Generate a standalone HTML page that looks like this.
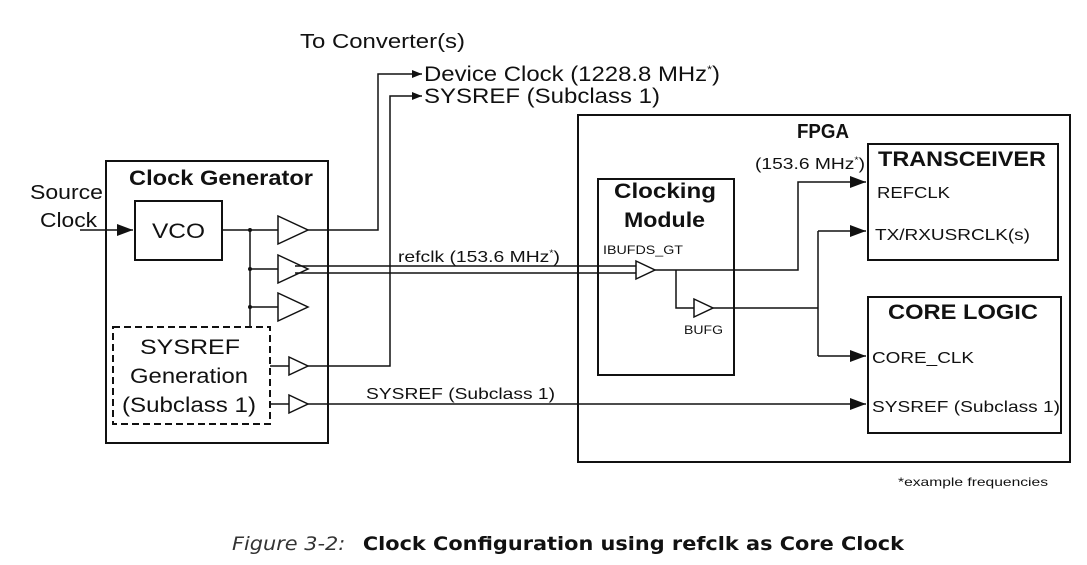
<!DOCTYPE html>
<html><head><style>
body{margin:0;background:#fff;}
svg text{font-family:"Liberation Sans",Arial,sans-serif;fill:#111;}
</style></head><body>
<svg width="1087" height="560" viewBox="0 0 1087 560" xmlns="http://www.w3.org/2000/svg">
<defs><marker id="a" markerWidth="10" markerHeight="8" refX="10" refY="4" orient="auto" markerUnits="userSpaceOnUse"><path d="M0,0L10,4L0,8z" fill="#111"/></marker>
<marker id="b" markerWidth="16" markerHeight="12" refX="16" refY="6" orient="auto" markerUnits="userSpaceOnUse"><path d="M0,0L16,6L0,12z" fill="#111"/></marker></defs>
<g stroke="#111" fill="none" stroke-width="1.5">
<rect x="106" y="161" width="222" height="282" stroke-width="2"/>
<rect x="135" y="201" width="87" height="59" stroke-width="2"/>
<rect x="113" y="327" width="157" height="97" stroke-width="2" stroke-dasharray="7,4"/>
<rect x="578" y="115" width="492" height="347" stroke-width="2"/>
<rect x="598" y="179" width="136" height="196" stroke-width="2"/>
<rect x="868" y="144" width="190" height="116" stroke-width="2"/>
<rect x="868" y="297" width="193" height="136" stroke-width="2"/>
<path d="M278,216L308,230L278,244z"/>
<path d="M278,255L308,269L278,283z"/>
<path d="M278,293L308,307L278,321z"/>
<path d="M289,357L308,366L289,375z"/>
<path d="M289,395L308,404L289,413z"/>
<path d="M636,261L655,270L636,279z"/>
<path d="M694,299L713,308L694,317z"/>
<path d="M80,230H133" marker-end="url(#b)"/>
<path d="M222,230H278M250,230V327M250,269H278M250,307H278"/>
<path d="M270,366H289M270,404H289"/>
<path d="M308,230H378V74H422" marker-end="url(#a)"/>
<path d="M308,366H390V96H422" marker-end="url(#a)"/>
<path d="M295,266H636M295,273H636"/>
<path d="M655,270H798V182H866" marker-end="url(#b)"/>
<path d="M676,270V308H694"/>
<path d="M713,308H818M818,231V356M818,231H866" marker-end="url(#b)"/>
<path d="M818,356H866" marker-end="url(#b)"/>
<path d="M308,404H866" marker-end="url(#b)"/>
</g>
<g fill="#111"><circle cx="250" cy="230" r="2"/><circle cx="250" cy="269" r="2"/><circle cx="250" cy="307" r="2"/></g>
<g lengthAdjust="spacingAndGlyphs">
<text x="300" y="48" font-size="20" textLength="165" lengthAdjust="spacingAndGlyphs">To Converter(s)</text>
<text x="424" y="81" font-size="21" textLength="296" lengthAdjust="spacingAndGlyphs">Device Clock (1228.8 MHz<tspan font-size="11" dy="-8">*</tspan><tspan dy="8">)</tspan></text>
<text x="424" y="103" font-size="21" textLength="236" lengthAdjust="spacingAndGlyphs">SYSREF (Subclass 1)</text>
<text x="30" y="199" font-size="20" textLength="73" lengthAdjust="spacingAndGlyphs">Source</text>
<text x="40" y="227" font-size="20" textLength="57" lengthAdjust="spacingAndGlyphs">Clock</text>
<text x="129" y="185" font-size="21" font-weight="bold" textLength="184" lengthAdjust="spacingAndGlyphs">Clock Generator</text>
<text x="152" y="238" font-size="21" textLength="53" lengthAdjust="spacingAndGlyphs">VCO</text>
<text x="140" y="354" font-size="21" textLength="100" lengthAdjust="spacingAndGlyphs">SYSREF</text>
<text x="130" y="383" font-size="21" textLength="118" lengthAdjust="spacingAndGlyphs">Generation</text>
<text x="122" y="412" font-size="21" textLength="134" lengthAdjust="spacingAndGlyphs">(Subclass 1)</text>
<text x="398" y="262" font-size="16" textLength="162" lengthAdjust="spacingAndGlyphs">refclk (153.6 MHz<tspan font-size="9" dy="-6">*</tspan><tspan dy="6">)</tspan></text>
<text x="366" y="399" font-size="16" textLength="189" lengthAdjust="spacingAndGlyphs">SYSREF (Subclass 1)</text>
<text x="797" y="138" font-size="20" font-weight="bold" textLength="52" lengthAdjust="spacingAndGlyphs">FPGA</text>
<text x="755" y="169" font-size="16" textLength="110" lengthAdjust="spacingAndGlyphs">(153.6 MHz<tspan font-size="9" dy="-6">*</tspan><tspan dy="6">)</tspan></text>
<text x="614" y="198" font-size="21" font-weight="bold" textLength="102" lengthAdjust="spacingAndGlyphs">Clocking</text>
<text x="624" y="227" font-size="21" font-weight="bold" textLength="81" lengthAdjust="spacingAndGlyphs">Module</text>
<text x="603" y="254" font-size="12" textLength="80" lengthAdjust="spacingAndGlyphs">IBUFDS_GT</text>
<text x="684" y="334" font-size="12" textLength="39" lengthAdjust="spacingAndGlyphs">BUFG</text>
<text x="878" y="166" font-size="21" font-weight="bold" textLength="168" lengthAdjust="spacingAndGlyphs">TRANSCEIVER</text>
<text x="877" y="198" font-size="16" textLength="73" lengthAdjust="spacingAndGlyphs">REFCLK</text>
<text x="875" y="240" font-size="16" textLength="155" lengthAdjust="spacingAndGlyphs">TX/RXUSRCLK(s)</text>
<text x="888" y="319" font-size="21" font-weight="bold" textLength="150" lengthAdjust="spacingAndGlyphs">CORE LOGIC</text>
<text x="872" y="363" font-size="16" textLength="102" lengthAdjust="spacingAndGlyphs">CORE_CLK</text>
<text x="872" y="412" font-size="16" textLength="188" lengthAdjust="spacingAndGlyphs">SYSREF (Subclass 1)</text>
<text x="898" y="486" font-size="12" textLength="150" lengthAdjust="spacingAndGlyphs">*example frequencies</text>
<text x="232" y="550" font-size="19" textLength="672" lengthAdjust="spacingAndGlyphs" style="font-family:'DejaVu Sans',sans-serif"><tspan font-style="italic" fill="#333">Figure 3-2:</tspan><tspan dx="16" font-weight="bold">Clock Configuration using refclk as Core Clock</tspan></text>
</g>
</svg>
</body></html>
